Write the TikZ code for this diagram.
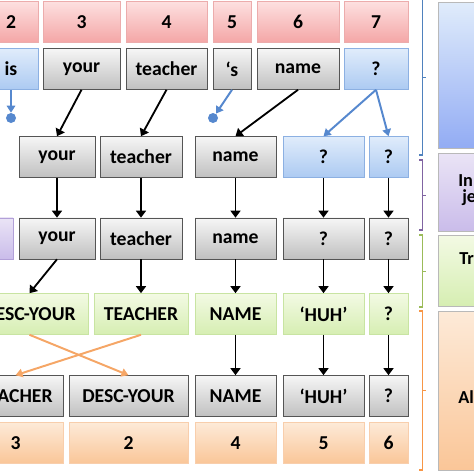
\documentclass[tikz,border=0pt]{standalone}
\usepackage{fontspec}
\setmainfont{Carlito}
\usepackage{tikz}
\usetikzlibrary{arrows.meta,shadows}
\definecolor{pinktop}{RGB}{253,224,224}
\definecolor{pinkbot}{RGB}{244,166,166}
\definecolor{pinkline}{RGB}{236,172,172}
\definecolor{graytop}{RGB}{246,246,246}
\definecolor{graybot}{RGB}{192,192,192}
\definecolor{grayline}{RGB}{85,85,85}
\definecolor{bluetop}{RGB}{224,236,251}
\definecolor{bluebot}{RGB}{172,202,242}
\definecolor{blueline}{RGB}{140,176,226}
\definecolor{greentop}{RGB}{243,250,228}
\definecolor{greenbot}{RGB}{214,238,178}
\definecolor{greenline}{RGB}{200,228,162}
\definecolor{orangetop}{RGB}{253,234,216}
\definecolor{orangebot}{RGB}{250,198,152}
\definecolor{orangeline}{RGB}{248,206,172}
\definecolor{purpletop}{RGB}{234,228,246}
\definecolor{purplebot}{RGB}{202,188,234}
\definecolor{purpleline}{RGB}{178,160,216}
\definecolor{linkblue}{RGB}{86,136,206}
\definecolor{linkorange}{RGB}{245,166,102}
\definecolor{braceblue}{RGB}{79,129,189}
\definecolor{bracepurple}{RGB}{128,100,162}
\definecolor{bracegreen}{RGB}{155,187,89}
\definecolor{braceorange}{RGB}{247,150,70}
\tikzset{
    base-cell/.style = {rectangle, minimum height=1.025cm, inner sep=0pt, font=\fontsize{14}{16}\selectfont\bfseries},
    wd/.style = {minimum width=#1*0.025cm},
    num-box/.style = {base-cell, draw=pinkline, top color=pinktop, bottom color=pinkbot},
    word-box/.style = {base-cell, draw=grayline, top color=graytop, bottom color=graybot, drop shadow={shadow xshift=0.7pt, shadow yshift=-0.7pt, opacity=0.5}},
    blue-box/.style = {base-cell, draw=blueline, top color=bluetop, bottom color=bluebot},
    tag-box/.style = {base-cell, draw=greenline, top color=greentop, bottom color=greenbot},
    rank-box/.style = {base-cell, draw=orangeline, top color=orangetop, bottom color=orangebot},
    lead-box/.style = {base-cell, draw=purpleline, top color=purpletop, bottom color=purplebot},
    tie/.style = {-{Triangle[length=5pt,width=7pt]}, line width=1.3pt, black},
    drop-tie/.style = {-{Triangle[length=5pt,width=6pt]}, line width=1.4pt, linkblue},
    swap-tie/.style = {-{Triangle[length=5pt,width=6pt]}, line width=1.4pt, linkorange},
    gap-dot/.style = {circle, fill=linkblue, inner sep=0pt, minimum size=0.25cm},
    brace-line/.style = {line width=1.4pt},
    side-text/.style = {anchor=base west, inner sep=0pt, font=\fontsize{13}{15}\selectfont\bfseries},
}

\begin{document}
\begin{tikzpicture}[x=0.025cm, y=-0.025cm]
\clip (0,0) rectangle (474,474);

\node[num-box, wd=54] (n2) at (11,22) {2};
\node[num-box, wd=77] (n3) at (81.5,22) {3};
\node[num-box, wd=81] (n4) at (166.5,22) {4};
\node[num-box, wd=38] (n5) at (232,22) {5};
\node[num-box, wd=82] (n6) at (298,22) {6};
\node[num-box, wd=64] (n7) at (376,22) {7};

\node[blue-box, wd=54] (sIs) at (11,69) {is};
\node[word-box, wd=77] (sYour) at (81.5,69) {your};
\node[word-box, wd=81] (sTeacher) at (166.5,69) {teacher};
\node[word-box, wd=38] (sPoss) at (232,69) {‘s};
\node[word-box, wd=82] (sName) at (298,69) {name};
\node[blue-box, wd=64] (sQ) at (376,69) {?};

\node[gap-dot] (dIs) at (11,118) {};
\node[gap-dot] (dPoss) at (213,118) {};

\node[word-box, wd=76] (pYour) at (57,157) {your};
\node[word-box, wd=82] (pTeacher) at (141,157) {teacher};
\node[word-box, wd=81] (pName) at (235.5,157) {name};
\node[blue-box, wd=81] (pQa) at (323.5,157) {?};
\node[blue-box, wd=39] (pQb) at (388.5,157) {?};

\node[lead-box, wd=73] (rLead) at (-23.5,238.5) {};
\node[word-box, wd=76] (rYour) at (57,238.5) {your};
\node[word-box, wd=82] (rTeacher) at (141,238.5) {teacher};
\node[word-box, wd=81] (rName) at (235.5,238.5) {name};
\node[word-box, wd=81] (rQa) at (323.5,238.5) {?};
\node[word-box, wd=39] (rQb) at (388.5,238.5) {?};

\node[tag-box, wd=117] (tDesc) at (29.5,314) {DESC-YOUR};
\node[tag-box, wd=94] (tTeacher) at (141,314) {TEACHER};
\node[tag-box, wd=81] (tName) at (235.5,314) {NAME};
\node[tag-box, wd=81] (tHuh) at (323.5,314) {‘HUH’};
\node[tag-box, wd=39] (tQ) at (388.5,314) {?};

\node[word-box, wd=95] (aTeacher) at (15.5,396) {TEACHER};
\node[word-box, wd=119] (aDesc) at (128.5,396) {DESC-YOUR};
\node[word-box, wd=81] (aName) at (235.5,396) {NAME};
\node[word-box, wd=81] (aHuh) at (323.5,396) {‘HUH’};
\node[word-box, wd=39] (aQ) at (388.5,396) {?};

\node[rank-box, wd=95] (o3) at (15.5,443) {3};
\node[rank-box, wd=119] (o2) at (128.5,443) {2};
\node[rank-box, wd=81] (o4) at (235.5,443) {4};
\node[rank-box, wd=81] (o5) at (323.5,443) {5};
\node[rank-box, wd=39] (o6) at (388.5,443) {6};

\draw[drop-tie] (sIs) -- (dIs);
\draw[drop-tie] (sPoss.south) -- (dPoss);
\draw[tie] (sYour.south) -- (pYour.north);
\draw[tie] (sTeacher.south) -- (pTeacher.north);
\draw[tie] (sName.south) -- (pName.north);
\draw[drop-tie] (sQ.south) -- (pQa.north);
\draw[drop-tie] (sQ.south) -- (pQb.north);
\foreach \w in {Your,Teacher,Name,Qa,Qb}
    \draw[tie] (p\w) -- (r\w);
\draw[tie] (rYour.south) -- (tDesc.north);
\draw[tie] (rTeacher) -- (tTeacher);
\draw[tie] (rName) -- (tName);
\draw[tie] (rQa) -- (tHuh);
\draw[tie] (rQb) -- (tQ);
\draw[swap-tie] (tDesc.south) -- (aDesc.north);
\draw[swap-tie] (tTeacher.south) -- (aTeacher.north);
\draw[tie] (tName) -- (aName);
\draw[tie] (tHuh) -- (aHuh);
\draw[tie] (tQ) -- (aQ);

\draw[brace-line, braceblue] (419,-5) -- (422.5,-5) -- (422.5,155) -- (419,155);
\draw[braceblue, thin] (422.5,77) -- (425.5,77);
\draw[brace-line, bracepurple] (419,160) -- (422.5,160) -- (422.5,230) -- (419,230);
\draw[bracepurple, thin] (422.5,195) -- (425.5,195);
\draw[brace-line, bracegreen] (419,235) -- (422.5,235) -- (422.5,307) -- (419,307);
\draw[bracegreen, thin] (422.5,271) -- (425.5,271);
\draw[brace-line, braceorange] (419,311) -- (422.5,311) -- (422.5,470) -- (419,470);
\draw[braceorange, thin] (422.5,390) -- (425.5,390);

\shade[top color=bluetop, bottom color=bluebot!85!blue, draw=gray!55] (438,2) rectangle (530,148);
\shade[top color=purpletop, bottom color=purplebot, draw=gray!55] (438,153) rectangle (530,231);
\shade[top color=greentop, bottom color=greenbot, draw=gray!55] (438,235) rectangle (530,306);
\shade[top color=orangetop, bottom color=orangebot, draw=gray!55] (438,311) rectangle (530,470);
\node[side-text] (inA) at (458,186) {In};
\node[side-text] (inB) at (462,202) {je};
\node[side-text] (trA) at (459,264) {Tr};
\node[side-text] (alA) at (458,403) {Al};
\end{tikzpicture}
\end{document}
